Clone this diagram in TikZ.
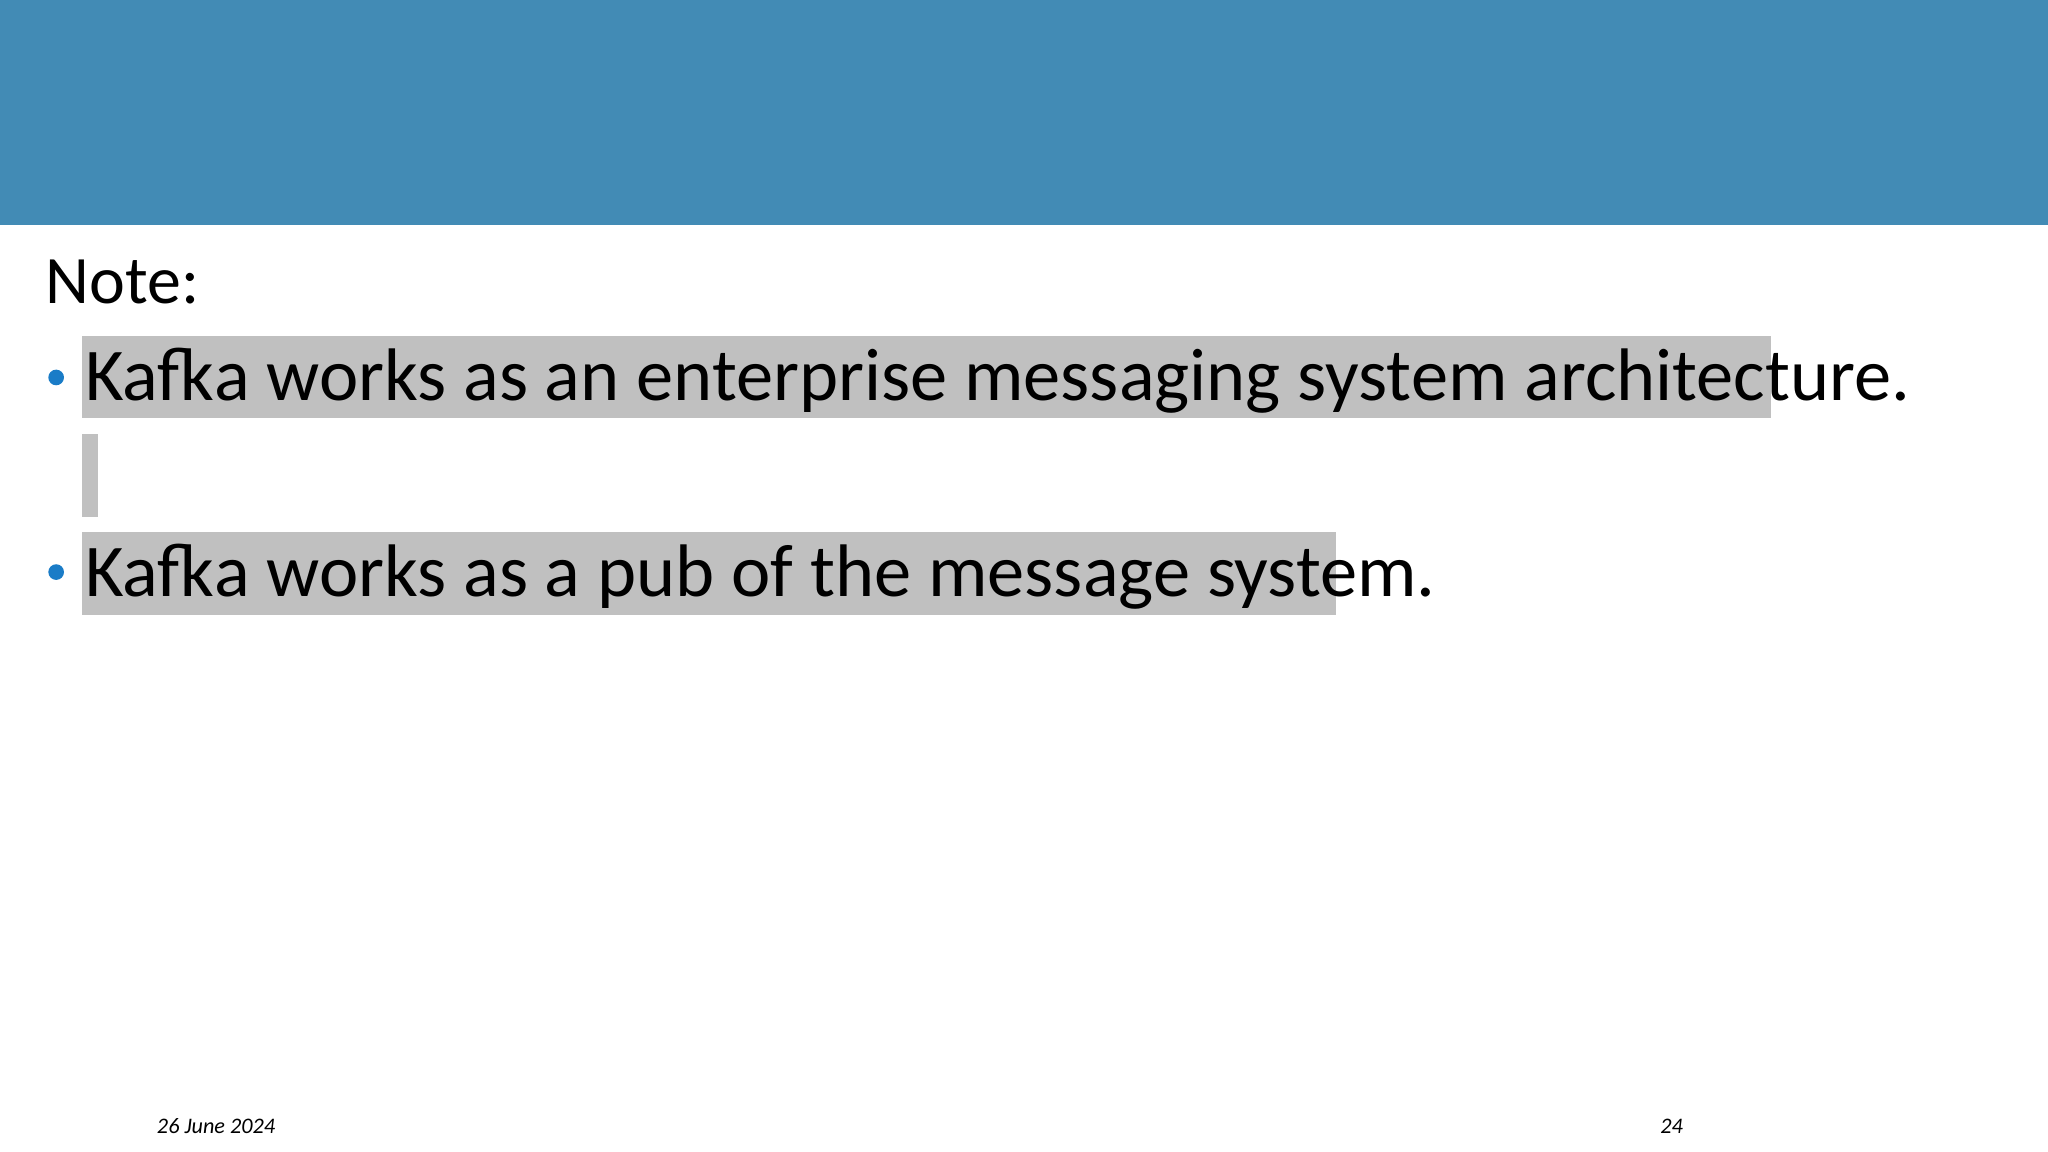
\documentclass[tikz,border=0pt]{standalone}
\usepackage{fontspec}
\setmainfont{Carlito}
\definecolor{banner}{HTML}{428BB5}
\definecolor{hl}{HTML}{C0C0C0}
\definecolor{bul}{HTML}{1A7CC7}
\begin{document}
\begin{tikzpicture}[x=1pt,y=-1pt,
  body/.style={anchor=base west,inner sep=0pt,font=\fontsize{57}{60}\selectfont},
  foot/.style={anchor=base west,inner sep=0pt,font=\fontsize{17}{20}\selectfont\itshape}]
\useasboundingbox (0,0) rectangle (1568,882);
\fill[banner] (0,0) rectangle (1568,172);
\node[body,font=\fontsize{52}{56}\selectfont] (note) at (35,232) {Note:};
\fill[hl] (63,257) rectangle (1356,320);
\fill[hl] (63,332) rectangle (75,396);
\fill[hl] (63,407) rectangle (1023,471);
\fill[bul] (43,289) circle (6);
\fill[bul] (43,438) circle (6);
\node[body] (l1) at (65,307) {Kafka works as an enterprise messaging system architecture.};
\node[body] (l2) at (65,457) {Kafka works as a pub of the message system.};
\node[foot] (date) at (120,868) {26 June 2024};
\node[foot] (page) at (1271,868) {24};
\end{tikzpicture}
\end{document}
